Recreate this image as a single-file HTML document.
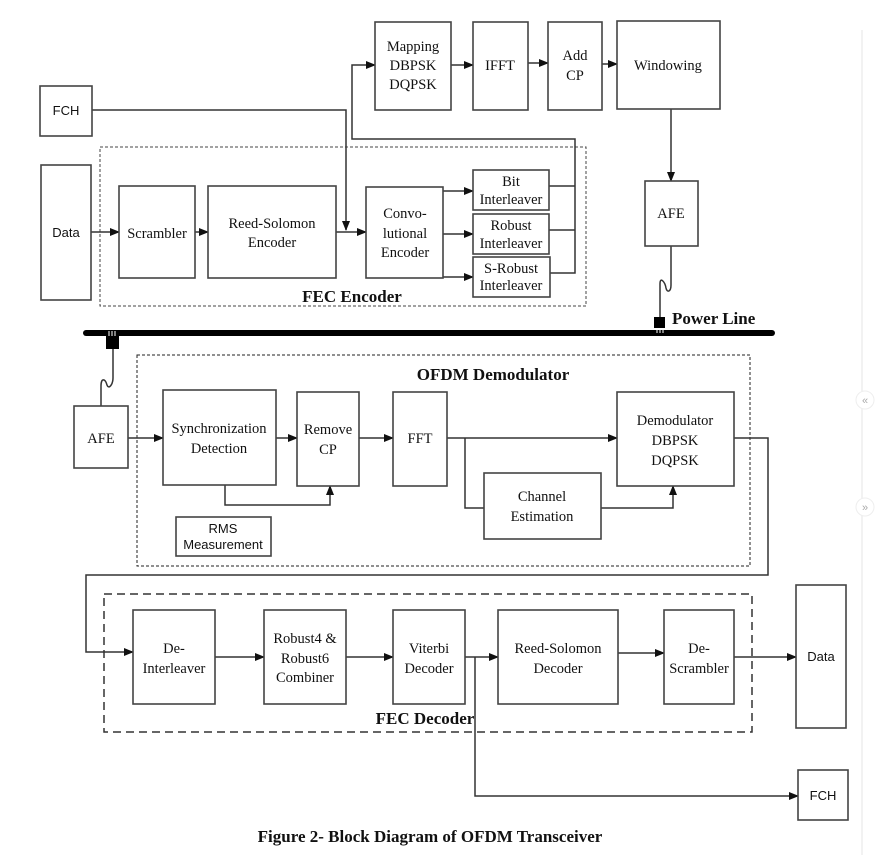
<!DOCTYPE html>
<html><head><meta charset="utf-8"><style>
html,body{margin:0;padding:0;background:#fff;}
svg{display:block;}
.s{font-family:"Liberation Serif",serif;font-size:14.5px;fill:#111;}
.a{font-family:"Liberation Sans",sans-serif;font-size:13px;fill:#111;}
.b{font-family:"Liberation Serif",serif;font-size:17px;font-weight:bold;fill:#111;}
rect.bx{fill:#fff;stroke:#444;stroke-width:1.6;}
.l{fill:none;stroke:#333;stroke-width:1.5;}
</style></head><body>
<svg width="882" height="855" viewBox="0 0 882 855" xmlns="http://www.w3.org/2000/svg">
<defs><marker id="ar" markerWidth="10" markerHeight="8" refX="9" refY="4" orient="auto" markerUnits="userSpaceOnUse"><path d="M0,0 L10,4 L0,8 z" fill="#111"/></marker></defs>
<line x1="862" y1="30" x2="862" y2="855" stroke="#e6e6e6" stroke-width="1"/>
<circle cx="865" cy="400" r="9" fill="#fff" stroke="#eee"/><text x="865" y="404" font-size="11" text-anchor="middle" fill="#aaa" font-family="Liberation Sans">«</text>
<circle cx="865" cy="507" r="9" fill="#fff" stroke="#eee"/><text x="865" y="511" font-size="11" text-anchor="middle" fill="#aaa" font-family="Liberation Sans">»</text>

<!-- dashed boxes -->
<rect x="100" y="147" width="486" height="159" fill="none" stroke="#444" stroke-width="1" stroke-dasharray="3,2"/>
<rect x="137" y="355" width="613" height="211" fill="none" stroke="#222" stroke-width="1" stroke-dasharray="3,2"/>
<rect x="104" y="594" width="648" height="138" fill="none" stroke="#333" stroke-width="1.5" stroke-dasharray="8,5"/>

<!-- connectors top -->
<path class="l" d="M92,110 H346 V230" marker-end="url(#ar)"/>
<path class="l" d="M91,232 H119" marker-end="url(#ar)"/>
<path class="l" d="M195,232 H208" marker-end="url(#ar)"/>
<path class="l" d="M336,232 H366" marker-end="url(#ar)"/>
<path class="l" d="M443,191 H473" marker-end="url(#ar)"/>
<path class="l" d="M443,234 H473" marker-end="url(#ar)"/>
<path class="l" d="M443,277 H473" marker-end="url(#ar)"/>
<path class="l" d="M549,186 H575 M549,230 H575 M550,273 H575 V139 H352 V65 H375" marker-end="url(#ar)"/>
<path class="l" d="M451,65 H473" marker-end="url(#ar)"/>
<path class="l" d="M528,63 H548" marker-end="url(#ar)"/>
<path class="l" d="M602,64 H617" marker-end="url(#ar)"/>
<path class="l" d="M671,109 V181" marker-end="url(#ar)"/>
<path class="l" d="M671,246 V285 C671,292 667,293 666,288 C665,282 660,276 660,284 V318"/>
<path class="l" d="M113,348 V378 C113,384 109,390 107,385 C105,378 101,378 101,386 V406"/>

<!-- power line -->
<line x1="86" y1="333" x2="772" y2="333" stroke="#000" stroke-width="6" stroke-linecap="round"/>
<rect x="654" y="317" width="11" height="11" fill="#000"/>
<rect x="106" y="336" width="13" height="13" fill="#000"/>
<path d="M657,328v5M660,328v5M663,328v5M109,331v5M112,331v5M115,331v5" stroke="#fff" stroke-width="1"/>

<!-- demod connectors -->
<path class="l" d="M128,438 H163" marker-end="url(#ar)"/>
<path class="l" d="M276,438 H297" marker-end="url(#ar)"/>
<path class="l" d="M359,438 H393" marker-end="url(#ar)"/>
<path class="l" d="M447,438 H617" marker-end="url(#ar)"/>
<path class="l" d="M465,438 V508 H484"/>
<path class="l" d="M601,508 H673 V486" marker-end="url(#ar)"/>
<path class="l" d="M225,485 V505 H330 V486" marker-end="url(#ar)"/>
<path class="l" d="M734,438 H768 V575 H86 V652 H133" marker-end="url(#ar)"/>

<!-- decoder connectors -->
<path class="l" d="M215,657 H264" marker-end="url(#ar)"/>
<path class="l" d="M346,657 H393" marker-end="url(#ar)"/>
<path class="l" d="M465,657 H498" marker-end="url(#ar)"/>
<path class="l" d="M475,657 V796 H798" marker-end="url(#ar)"/>
<path class="l" d="M618,653 H664" marker-end="url(#ar)"/>
<path class="l" d="M734,657 H796" marker-end="url(#ar)"/>

<!-- boxes -->
<rect class="bx" x="40" y="86" width="52" height="50"/><text class="a" x="66" y="115" text-anchor="middle">FCH</text>
<rect class="bx" x="41" y="165" width="50" height="135"/><text class="a" x="66" y="237" text-anchor="middle">Data</text>
<rect class="bx" x="119" y="186" width="76" height="92"/><text class="s" x="157" y="238" text-anchor="middle">Scrambler</text>
<rect class="bx" x="208" y="186" width="128" height="92"/><text class="s" x="272" y="228" text-anchor="middle">Reed-Solomon</text><text class="s" x="272" y="247" text-anchor="middle">Encoder</text>
<rect class="bx" x="366" y="187" width="77" height="91"/><text class="s" x="405" y="218" text-anchor="middle">Convo-</text><text class="s" x="405" y="238" text-anchor="middle">lutional</text><text class="s" x="405" y="257" text-anchor="middle">Encoder</text>
<rect class="bx" x="473" y="170" width="76" height="40"/><text class="s" x="511" y="186" text-anchor="middle">Bit</text><text class="s" x="511" y="204" text-anchor="middle">Interleaver</text>
<rect class="bx" x="473" y="214" width="76" height="40"/><text class="s" x="511" y="230" text-anchor="middle">Robust</text><text class="s" x="511" y="248" text-anchor="middle">Interleaver</text>
<rect class="bx" x="473" y="257" width="77" height="40"/><text class="s" x="511" y="273" text-anchor="middle">S-Robust</text><text class="s" x="511" y="290" text-anchor="middle">Interleaver</text>
<rect class="bx" x="375" y="22" width="76" height="88"/><text class="s" x="413" y="51" text-anchor="middle">Mapping</text><text class="s" x="413" y="70" text-anchor="middle">DBPSK</text><text class="s" x="413" y="89" text-anchor="middle">DQPSK</text>
<rect class="bx" x="473" y="22" width="55" height="88"/><text class="s" x="500" y="70" text-anchor="middle">IFFT</text>
<rect class="bx" x="548" y="22" width="54" height="88"/><text class="s" x="575" y="60" text-anchor="middle">Add</text><text class="s" x="575" y="80" text-anchor="middle">CP</text>
<rect class="bx" x="617" y="21" width="103" height="88"/><text class="s" x="668" y="70" text-anchor="middle">Windowing</text>
<rect class="bx" x="645" y="181" width="53" height="65"/><text class="s" x="671" y="218" text-anchor="middle">AFE</text>
<text class="b" x="352" y="302" text-anchor="middle">FEC Encoder</text>
<text class="b" x="672" y="324" font-size="15">Power Line</text>

<rect class="bx" x="74" y="406" width="54" height="62"/><text class="s" x="101" y="443" text-anchor="middle">AFE</text>
<text class="b" x="493" y="380" text-anchor="middle">OFDM Demodulator</text>
<rect class="bx" x="163" y="390" width="113" height="95"/><text class="s" x="219" y="433" text-anchor="middle">Synchronization</text><text class="s" x="219" y="453" text-anchor="middle">Detection</text>
<rect class="bx" x="297" y="392" width="62" height="94"/><text class="s" x="328" y="434" text-anchor="middle">Remove</text><text class="s" x="328" y="454" text-anchor="middle">CP</text>
<rect class="bx" x="393" y="392" width="54" height="94"/><text class="s" x="420" y="443" text-anchor="middle">FFT</text>
<rect class="bx" x="617" y="392" width="117" height="94"/><text class="s" x="675" y="425" text-anchor="middle">Demodulator</text><text class="s" x="675" y="445" text-anchor="middle">DBPSK</text><text class="s" x="675" y="465" text-anchor="middle">DQPSK</text>
<rect class="bx" x="484" y="473" width="117" height="66"/><text class="s" x="542" y="501" text-anchor="middle">Channel</text><text class="s" x="542" y="521" text-anchor="middle">Estimation</text>
<rect class="bx" x="176" y="517" width="95" height="39"/><text class="a" x="223" y="533" text-anchor="middle">RMS</text><text class="a" x="223" y="549" text-anchor="middle">Measurement</text>

<rect class="bx" x="133" y="610" width="82" height="94"/><text class="s" x="174" y="653" text-anchor="middle">De-</text><text class="s" x="174" y="673" text-anchor="middle">Interleaver</text>
<rect class="bx" x="264" y="610" width="82" height="94"/><text class="s" x="305" y="643" text-anchor="middle">Robust4 &amp;</text><text class="s" x="305" y="663" text-anchor="middle">Robust6</text><text class="s" x="305" y="682" text-anchor="middle">Combiner</text>
<rect class="bx" x="393" y="610" width="72" height="94"/><text class="s" x="429" y="653" text-anchor="middle">Viterbi</text><text class="s" x="429" y="673" text-anchor="middle">Decoder</text>
<rect class="bx" x="498" y="610" width="120" height="94"/><text class="s" x="558" y="653" text-anchor="middle">Reed-Solomon</text><text class="s" x="558" y="673" text-anchor="middle">Decoder</text>
<rect class="bx" x="664" y="610" width="70" height="94"/><text class="s" x="699" y="653" text-anchor="middle">De-</text><text class="s" x="699" y="673" text-anchor="middle">Scrambler</text>
<rect class="bx" x="796" y="585" width="50" height="143"/><text class="a" x="821" y="661" text-anchor="middle">Data</text>
<rect class="bx" x="798" y="770" width="50" height="50"/><text class="a" x="823" y="800" text-anchor="middle">FCH</text>
<text class="b" x="425" y="724" text-anchor="middle">FEC Decoder</text>
<text class="b" x="430" y="842" text-anchor="middle" font-size="13.5">Figure 2- Block Diagram of OFDM Transceiver</text>
</svg>
</body></html>
